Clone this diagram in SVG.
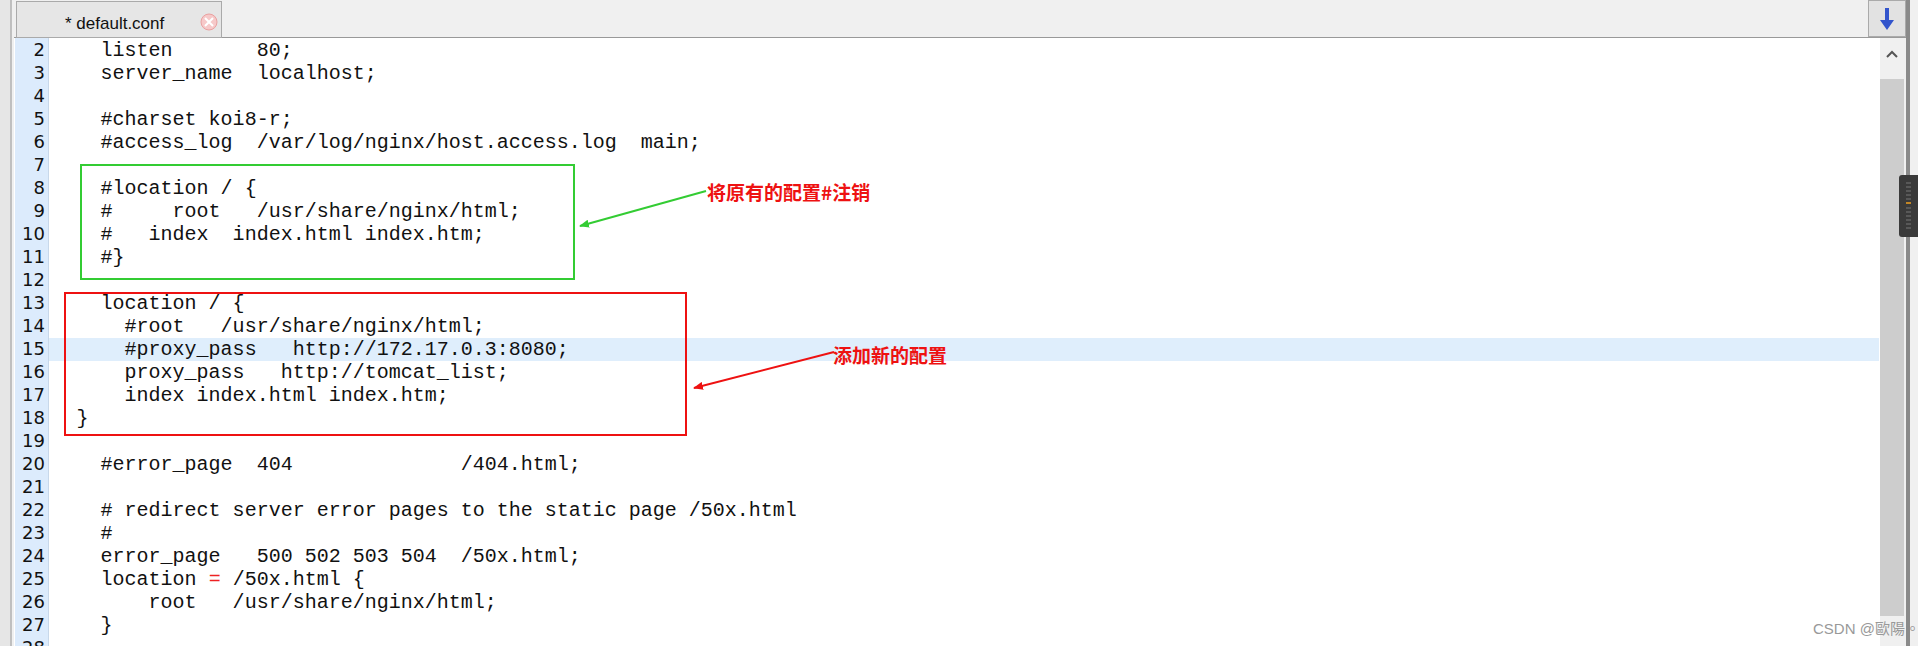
<svg xmlns="http://www.w3.org/2000/svg" width="1918" height="646" viewBox="0 0 1918 646">
<style>
.code{font-family:"Liberation Mono",monospace;font-size:20px;fill:#111;white-space:pre}
.ln{font-family:"DejaVu Sans","Liberation Sans",sans-serif;font-size:18px;fill:#111;text-anchor:end}
.lab{font-family:"Noto Sans CJK SC",sans-serif;font-size:19px;fill:#ee1111;font-weight:bold}
</style>
<defs>
<marker id="ag" markerWidth="10" markerHeight="8" refX="9" refY="4" orient="auto" markerUnits="userSpaceOnUse" viewBox="0 0 10 8"><path d="M0,0 L10,4 L0,8 Z" fill="#33cc33"/></marker>
<marker id="ar" markerWidth="10" markerHeight="8" refX="9" refY="4" orient="auto" markerUnits="userSpaceOnUse" viewBox="0 0 10 8"><path d="M0,0 L10,4 L0,8 Z" fill="#ee1111"/></marker>
</defs>
<rect width="1918" height="646" fill="#f0f0f0"/>
<g id="frame">
<rect x="0" y="0" width="12" height="646" fill="#e6e6e6"/>
<line x1="11" y1="0" x2="11" y2="646" stroke="#999" stroke-width="1"/>
<rect x="14" y="38" width="1866" height="608" fill="#fff"/>
<line x1="14" y1="37.5" x2="1906" y2="37.5" stroke="#999"/>
<rect x="15" y="38" width="33" height="608" fill="#dcebfc"/>
<line x1="48.5" y1="38" x2="48.5" y2="646" stroke="#c8d8ea"/>
<rect x="49" y="338" width="1830" height="23" fill="#dfeefc"/>
<rect x="16.5" y="1.5" width="205" height="36" fill="#e6e6e6" stroke="#aaa"/>
<text x="65" y="29" font-family="Liberation Sans,sans-serif" font-size="17" fill="#111">* default.conf</text>
<circle cx="209" cy="22" r="8" fill="#f6c9c9" stroke="#e9a0a0"/>
<path d="M205,18 L213,26 M213,18 L205,26" stroke="#fff" stroke-width="2"/>
<rect x="1868.5" y="0.5" width="37" height="36" fill="#e2e2e2" stroke="#aaa"/>
<path d="M1885,8 h4 v12 h5 l-7,10 l-7,-10 h5 z" fill="#3355cc"/>
<rect x="1880" y="39" width="24" height="40" fill="#f0f0f0"/>
<path d="M1887,57 l5,-5 l5,5" stroke="#555" stroke-width="2" fill="none"/>
<rect x="1880" y="79" width="24" height="537" fill="#cdcdcd"/>
<rect x="1906" y="0" width="4" height="646" fill="#8a8a8a"/>
<rect x="1899" y="175" width="22" height="62" rx="3" fill="#3a3a3a"/>
<path d="M1906,183 h5 M1906,187 h5 M1906,191 h5 M1906,195 h5 M1906,199 h5 M1906,208 h5 M1906,212 h5 M1906,216 h5 M1906,220 h5 M1906,224 h5 M1906,228 h5" stroke="#777" stroke-width="1"/>
<line x1="1906" y1="203" x2="1911" y2="203" stroke="#f0a020" stroke-width="1.5"/>
<text x="1813" y="634" font-family="Liberation Sans,'Noto Sans CJK TC',sans-serif" font-size="15" fill="#999">CSDN @歐陽。</text>
</g>
<g id="gutter">
<text class="ln" x="45" y="56">2</text><text class="ln" x="45" y="79">3</text><text class="ln" x="45" y="102">4</text><text class="ln" x="45" y="125">5</text><text class="ln" x="45" y="148">6</text><text class="ln" x="45" y="171">7</text><text class="ln" x="45" y="194">8</text><text class="ln" x="45" y="217">9</text><text class="ln" x="45" y="240">10</text><text class="ln" x="45" y="263">11</text><text class="ln" x="45" y="286">12</text><text class="ln" x="45" y="309">13</text><text class="ln" x="45" y="332">14</text><text class="ln" x="45" y="355">15</text><text class="ln" x="45" y="378">16</text><text class="ln" x="45" y="401">17</text><text class="ln" x="45" y="424">18</text><text class="ln" x="45" y="447">19</text><text class="ln" x="45" y="470">20</text><text class="ln" x="45" y="493">21</text><text class="ln" x="45" y="516">22</text><text class="ln" x="45" y="539">23</text><text class="ln" x="45" y="562">24</text><text class="ln" x="45" y="585">25</text><text class="ln" x="45" y="608">26</text><text class="ln" x="45" y="631">27</text><text class="ln" x="45" y="654">28</text>
</g>
<g id="code">
<text class="code" x="52.6" y="56">    listen       80;</text>
<text class="code" x="52.6" y="79">    server_name  localhost;</text>
<text class="code" x="52.6" y="125">    #charset koi8-r;</text>
<text class="code" x="52.6" y="148">    #access_log  /var/log/nginx/host.access.log  main;</text>
<text class="code" x="52.6" y="194">    #location / {</text>
<text class="code" x="52.6" y="217">    #     root   /usr/share/nginx/html;</text>
<text class="code" x="52.6" y="240">    #   index  index.html index.htm;</text>
<text class="code" x="52.6" y="263">    #}</text>
<text class="code" x="52.6" y="309">    location / {</text>
<text class="code" x="52.6" y="332">      #root   /usr/share/nginx/html;</text>
<text class="code" x="52.6" y="355">      #proxy_pass   http://172.17.0.3:8080;</text>
<text class="code" x="52.6" y="378">      proxy_pass   http://tomcat_list;</text>
<text class="code" x="52.6" y="401">      index index.html index.htm;</text>
<text class="code" x="52.6" y="424">  }</text>
<text class="code" x="52.6" y="470">    #error_page  404              /404.html;</text>
<text class="code" x="52.6" y="516">    # redirect server error pages to the static page /50x.html</text>
<text class="code" x="52.6" y="539">    #</text>
<text class="code" x="52.6" y="562">    error_page   500 502 503 504  /50x.html;</text>
<text class="code" x="52.6" y="585">    location <tspan fill="#ee2222">=</tspan> /50x.html {</text>
<text class="code" x="52.6" y="608">        root   /usr/share/nginx/html;</text>
<text class="code" x="52.6" y="631">    }</text>
</g>
<g id="annot-old">
<rect x="81" y="165" width="493" height="114" fill="none" stroke="#33cc33" stroke-width="2"/>
<text class="lab" x="707" y="200">将原有的配置#注销</text>
</g>
<g id="annot-new">
<rect x="65" y="293" width="621" height="142" fill="none" stroke="#ee1111" stroke-width="2"/>
<text class="lab" x="833" y="363">添加新的配置</text>
</g>
<g id="connectors">
<line x1="706" y1="191" x2="580" y2="226" stroke="#33cc33" stroke-width="2" marker-end="url(#ag)"/>
<line x1="834" y1="352" x2="694" y2="388" stroke="#ee1111" stroke-width="2" marker-end="url(#ar)"/>
</g>
</svg>
